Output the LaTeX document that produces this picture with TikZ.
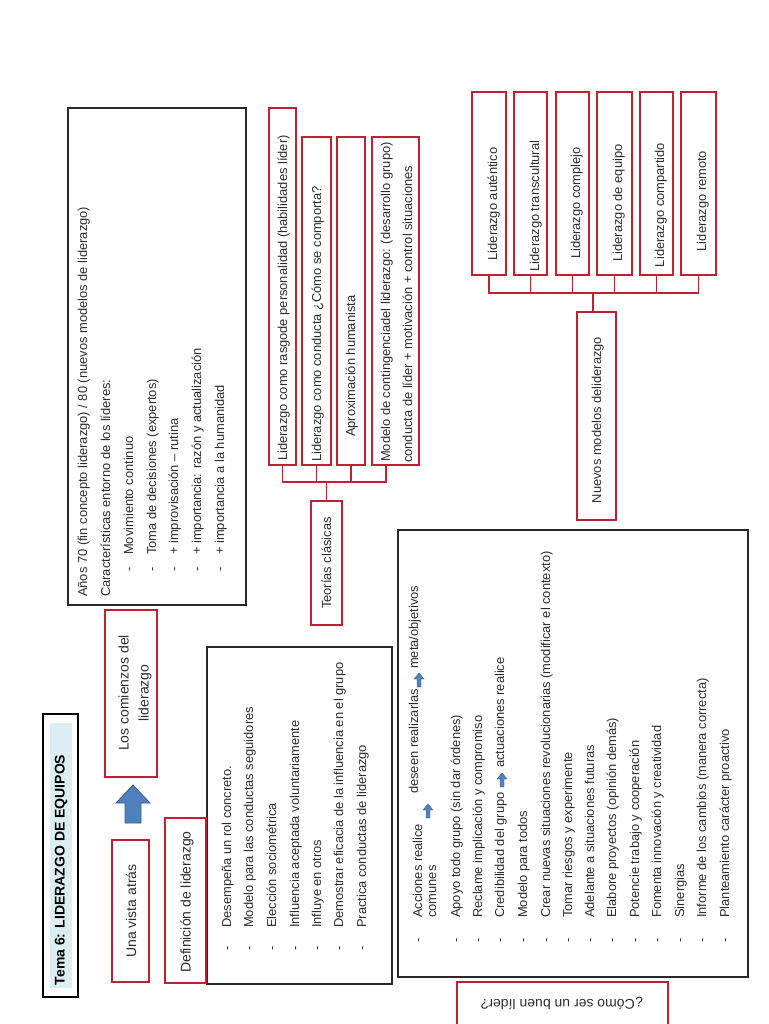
\documentclass[tikz,border=0pt]{standalone}
\usepackage{fontspec}
\setmainfont{Liberation Sans}
\usetikzlibrary{fit}
\definecolor{redc}{RGB}{192,32,48}
\definecolor{boxc}{RGB}{40,40,40}
\definecolor{txtc}{RGB}{45,45,45}
\definecolor{arrowblue}{RGB}{79,129,189}
\definecolor{arrowedge}{RGB}{56,93,138}
\definecolor{titlebg}{RGB}{218,238,243}
\newcommand{\smallup}[2]{\filldraw[smallarrow, shift={(#1,#2)}] (0,0) -- (5,6) -- (2,6) -- (2,14) -- (-2,14) -- (-2,6) -- (-5,6) -- cycle;}
\begin{document}
\begin{tikzpicture}[x=1pt,y=-1pt,
  redbox/.style={draw=redc, line width=1.6pt, fill=white, inner sep=0pt},
  blackbox/.style={draw=boxc, line width=1.2pt, inner sep=0pt},
  titlebox/.style={draw=black, line width=2.4pt, inner sep=0pt},
  conn/.style={draw=redc, line width=1.6pt},
  bodytext/.style={rotate=90, inner sep=0pt, text=txtc, font=\fontsize{12.9}{15}\selectfont, text height=9.5pt, text depth=3.2pt},
  listitem/.style={bodytext, anchor=west},
  headfont/.style={inner sep=0pt, text=txtc, font=\fontsize{14}{20}\selectfont, align=center},
  heading/.style={headfont, rotate=90},
  bigarrow/.style={fill=arrowblue, draw=arrowedge, line width=0.8pt},
  smallarrow/.style={fill=arrowblue, draw=arrowedge, line width=0.4pt}]

\useasboundingbox[fill=white] (0,0) rectangle (768,1024);

% ---- title
\node[titlebox, fit={(43,714) (78,997)}] (title) {};
\fill[titlebg] (50,723) rectangle (72,988);
\node[rotate=90, inner sep=0pt, font=\bfseries\fontsize{14}{16}\selectfont] (titletxt) at (61,870) {Tema 6: LIDERAZGO DE EQUIPOS};

% ---- una vista atras / comienzos
\node[redbox, fit={(112,840) (149,982)}] (vista) {};
\node[heading] (vistatxt) at (131,911) {Una vista atrás};
\draw[bigarrow] (133,785) -- (150,803) -- (141,803) -- (141,823) -- (125,823) -- (125,803) -- (116,803) -- cycle;
\node[redbox, fit={(105,610) (157,777)}] (comienzos) {};
\node[heading] (comtxt) at (135,693) {Los comienzos del\\liderazgo};

% ---- Anos 70 box
\node[blackbox, fit={(68,108) (246,605)}] (anos) {};
\node[listitem] (a0) at (84,597) {Años 70 (fin concepto liderazgo) / 80 (nuevos modelos de liderazgo)};
\node[listitem] (a1) at (107,597) {Características entorno de los líderes:};
\foreach \x/\t [count=\i] in {130/Movimiento continuo, 153/Toma de decisiones (expertos), 175/+ improvisación – rutina, 198/+ importancia: razón y actualización, 221/+ importancia a la humanidad}{
  \node[listitem] (ab\i) at (\x,572) {-};
  \node[listitem] (at\i) at (\x,555) {\t};
}

% ---- Definicion
\node[blackbox, fit={(207,647) (392,984)}] (defbox) {};
\node[redbox, fit={(165,818) (206,983)}] (defin) {};
\node[heading] (defintxt) at (187,902) {Definición de liderazgo};
\foreach \x/\t [count=\i] in {228/Desempeña un rol concreto., 250/Modelo para las conductas seguidores, 273/Elección sociométrica, 296/Influencia aceptada voluntariamente, 318/Influye en otros, 340/Demostrar eficacia de la influencia en el grupo, 363/Practica conductas de liderazgo}{
  \node[listitem] (db\i) at (\x,951) {-};
  \node[listitem] (dt\i) at (\x,928) {\t};
}

% ---- Teorias clasicas
\node[redbox, fit={(269,108) (296,465)}] (t1) {};
\node[redbox, fit={(302,137) (331,465)}] (t2) {};
\node[redbox, fit={(337,137) (365,465)}] (t3) {};
\node[redbox, fit={(372,137) (419,465)}] (t4) {};
\node[redbox, fit={(311,501) (342,625)}] (tc) {};
\node[listitem] (t1t) at (284,461) {Liderazgo como rasgode personalidad (habilidades líder)};
\node[listitem] (t2t) at (318,462) {Liderazgo como conducta ¿Cómo se comporta?};
\node[listitem] (t3t) at (352,437) {Aproximación humanista};
\node[listitem] (t4a) at (387,462) {Modelo de contingenciadel liderazgo: (desarrollo grupo)};
\node[listitem] (t4b) at (409,463) {conducta de líder + motivación + control situaciones};
\node[bodytext] (tct) at (328,563) {Teorías clásicas};
\coordinate (tb) at (326.5,482);
\draw[conn] (t1.south) |- (tb);
\draw[conn] (t2.south) |- (tb);
\draw[conn] (t3.south) |- (tb);
\draw[conn] ([xshift=-9.5pt]t4.south) |- (tb);
\draw[conn] (tc.north) -- (tb);

% ---- Nuevos modelos
\node[redbox, fit={(472,92) (506,275)}] (n1) {};
\node[redbox, fit={(514,92) (547,275)}] (n2) {};
\node[redbox, fit={(556,92) (589,275)}] (n3) {};
\node[redbox, fit={(597,92) (632,275)}] (n4) {};
\node[redbox, fit={(640,92) (673,275)}] (n5) {};
\node[redbox, fit={(681,92) (716,275)}] (n6) {};
\node[redbox, fit={(577,312) (616,520)}] (nm) {};
\node[bodytext] (n1t) at (494,204) {Liderazgo auténtico};
\node[bodytext] (n2t) at (536,206) {Liderazgo transcultural};
\node[bodytext] (n3t) at (577,203) {Liderazgo complejo};
\node[bodytext] (n4t) at (619,203) {Liderazgo de equipo};
\node[bodytext] (n5t) at (661,205) {Liderazgo compartido};
\node[bodytext] (n6t) at (703,201) {Liderazgo remoto};
\node[bodytext] (nmt) at (598,420) {Nuevos modelos deliderazgo};
\coordinate (nb) at (593,293);
\foreach \k in {1,...,6}{\draw[conn] (n\k.south) |- (nb);}
\draw[conn] (nb) -- (nb |- nm.north);

% ---- Como ser un buen lider
\node[blackbox, fit={(398,530) (748,977)}] (comobox) {};
\node[redbox, fit={(457,982) (668,1040)}] (comotit) {};
\node[headfont, rotate=180] (comotxt) at (562,1003) {¿Cómo ser un buen líder?};

\node[listitem] (cb0) at (419,943) {-};
\node[listitem] (c0a) at (419,918) {Acciones realice};
\smallup{428}{804}
\node[listitem] (c0b) at (415,794) {deseen realizarlas};
\smallup{419}{673}
\node[listitem] (c0c) at (415,669) {meta/objetivos};
\node[listitem] (c0d) at (433,918) {comunes};

\node[listitem] (cb4) at (501,943) {-};
\node[listitem] (c4a) at (501,918) {Credibilidad del grupo};
\smallup{502}{773}
\node[listitem] (c4b) at (501,768) {actuaciones realice};

\foreach \x/\t [count=\i] in {457/Apoyo todo grupo (sin dar órdenes), 479/Reclame implicación y compromiso, 524/Modelo para todos, 547/Crear nuevas situaciones revolucionarias (modificar el contexto), 569/Tomar riesgos y experimente, 591/Adelante a situaciones futuras, 613/Elabore proyectos (opinión demás), 636/Potencie trabajo y cooperación, 658/Fomenta innovación y creatividad, 681/Sinergias, 703/Informe de los cambios (manera correcta), 726/Planteamiento carácter proactivo}{
  \node[listitem] (cbx\i) at (\x,943) {-};
  \node[listitem] (ctx\i) at (\x,918) {\t};
}
\end{tikzpicture}
\end{document}
